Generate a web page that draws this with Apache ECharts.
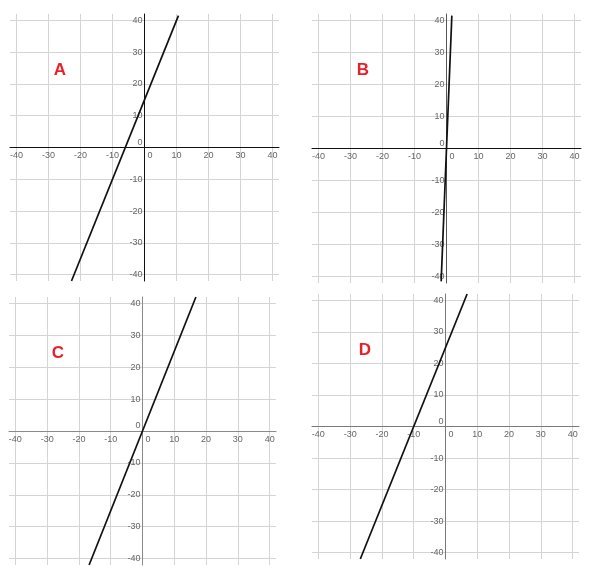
<!DOCTYPE html>
<html>
<head>
<meta charset="utf-8">
<script src="https://cdn.jsdelivr.net/npm/echarts@6/dist/echarts.min.js"></script>
<style>
  html, body { margin: 0; padding: 0; background: #fff; }
  #main { width: 597px; height: 575px; }
</style>
</head>
<body>
<div id="main"></div>
<script>
// tick values shared by every panel
var ticks = [-40, -30, -20, -10, 0, 10, 20, 30, 40];
var panelNames = ['A', 'B', 'C', 'D'];

// end points of each line
var lineA = [[-22.8, -42], [10.6, 41.5]];
var lineB = [[-1.67, -41.5], [1.67, 41.5]];
var lineC = [[-16.8, -42], [16.8, 42]];
var lineD = [[-26.8, -42], [6.8, 42]];

var myChart = echarts.init(document.getElementById('main'));

// grid boxes and axis colours for each panel
var grids = [
  { left: 10, top: 14, width: 269, height: 267 },
  { left: 312, top: 14, width: 269, height: 269 },
  { left: 9, top: 297, width: 267, height: 268 },
  { left: 312, top: 294, width: 267, height: 265 }
];
var axisColorX = ['#111', '#111', '#8a8a8a', '#7a7a7a'];
var axisColorY = ['#111', '#555', '#8a8a8a', '#7a7a7a'];
var letterPos = [[60, 70], [363, 70], [58, 353], [365, 350]];
var lines = [lineA, lineB, lineC, lineD];

var labelStyle = {
  fontFamily: 'Liberation Sans',
  fontSize: 9,
  color: '#666'
};

var xAxes = [], yAxes = [], series = [], graphics = [];
for (var i = 0; i < 4; i++) {
  // axes sit in the middle of the box, where 0 is
  xAxes.push({
    type: 'value', gridIndex: i, min: -42, max: 42,
    position: 'bottom', offset: -grids[i].height / 2,
    axisLine: { onZero: false, lineStyle: { color: axisColorX[i], width: 1 } },
    axisTick: { show: false, customValues: ticks },
    splitLine: { show: true, lineStyle: { color: '#d4d4d4', width: 1 } },
    axisLabel: Object.assign({
      customValues: ticks, margin: 4,
      formatter: function (v) { return v === 0 ? '{o|0}' : String(v); },
      rich: { o: { padding: [0, 0, 0, 11], fontSize: 9, color: '#666', fontFamily: 'Liberation Sans' } }
    }, labelStyle)
  });
  yAxes.push({
    type: 'value', gridIndex: i, min: -42, max: 42,
    position: 'left', offset: -grids[i].width / 2,
    axisLine: { onZero: false, lineStyle: { color: axisColorY[i], width: 1 } },
    axisTick: { show: false, customValues: ticks },
    splitLine: { show: true, lineStyle: { color: '#d4d4d4', width: 1 } },
    axisLabel: Object.assign({
      customValues: ticks, margin: 2,
      formatter: function (v) { return v === 0 ? '{o|0}' : String(v); },
      rich: { o: { padding: [0, 0, 10, 0], fontSize: 9, color: '#666', fontFamily: 'Liberation Sans' } }
    }, labelStyle)
  });
  series.push({
    type: 'line', xAxisIndex: i, yAxisIndex: i,
    data: lines[i], showSymbol: false, silent: true,
    lineStyle: { color: '#111', width: 1.7 }
  });
  graphics.push({
    type: 'text', x: letterPos[i][0], y: letterPos[i][1],
    style: {
      text: panelNames[i], fill: '#e8202a',
      font: 'bold 17px "Liberation Sans"',
      textAlign: 'center', textVerticalAlign: 'middle'
    }
  });
}

var option = {
  animation: false,
  grid: grids,
  xAxis: xAxes,
  yAxis: yAxes,
  series: series,
  graphic: graphics
};
myChart.setOption(option);
</script>
</body>
</html>
